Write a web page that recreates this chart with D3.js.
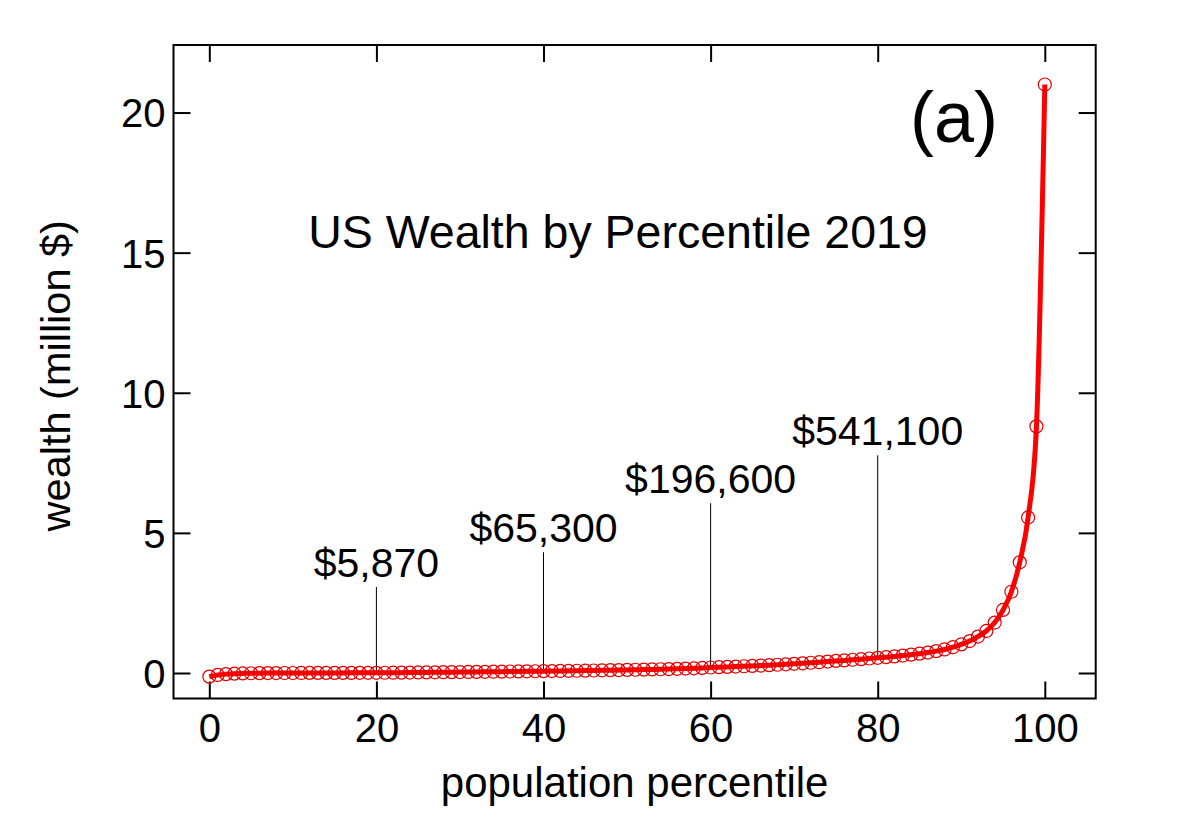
<!DOCTYPE html>
<html>
<head>
<meta charset="utf-8">
<script src="https://cdn.jsdelivr.net/npm/d3@7"></script>
<style>
  body { margin: 0; background: #fff; }
  text { font-family: "Liberation Sans", Arial, Helvetica, sans-serif; fill: #000; }
</style>
</head>
<body>
<svg id="drawing_region"></svg>
<script>
// wealth at each population percentile 0..100, million $
var percentile = d3.range(0, 101);
var wealth = [
  -0.13, -0.07, -0.04, -0.025, -0.015, -0.009, -0.005, -0.003, -0.0015, -0.0005,
  0.0003, 0.001, 0.0017, 0.0024, 0.003, 0.0036, 0.0042, 0.0047, 0.0052, 0.0056,
  0.00587, 0.008, 0.0105, 0.013, 0.016, 0.019, 0.022, 0.025, 0.028, 0.031,
  0.034, 0.037, 0.040, 0.043, 0.046, 0.049, 0.053, 0.0565, 0.0595, 0.0625,
  0.0653, 0.069, 0.073, 0.077, 0.081, 0.085, 0.090, 0.095, 0.100, 0.105,
  0.111, 0.116, 0.121, 0.127, 0.133, 0.140, 0.148, 0.157, 0.167, 0.181,
  0.1966, 0.207, 0.218, 0.229, 0.241, 0.253, 0.266, 0.280, 0.295, 0.311,
  0.328, 0.346, 0.365, 0.385, 0.407, 0.430, 0.450, 0.472, 0.494, 0.517,
  0.5411, 0.565, 0.592, 0.622, 0.655, 0.69, 0.73, 0.78, 0.84, 0.92,
  1.02, 1.14, 1.30, 1.50, 1.80, 2.25, 2.90, 3.95, 5.55, 8.80,
  21.0
];

// callouts
var notePct = [20, 40, 60, 80];
var noteText = ['$5,870', '$65,300', '$196,600', '$541,100'];
var noteTop = [3.07, 4.31, 6.06, 7.77];   // top of leader line, million $

var xTicks = [0, 20, 40, 60, 80, 100];
var yTicks = [0, 5, 10, 15, 20];

var width = 1200, height = 831;
var margin = {top: 45, right: 104.3, bottom: 132.5, left: 173.5};
var inner_width = width - margin.left - margin.right;
var inner_height = height - margin.top - margin.bottom;

var svg = d3.select('#drawing_region')
  .attr('width', width)
  .attr('height', height);

var chart = svg.append('g')
  .attr('transform', `translate(${margin.left}, ${margin.top})`);

var xscale = d3.scaleLinear()
  .domain([-4.285, 106.09])
  .range([0, inner_width]);

var yscale = d3.scaleLinear()
  .domain([-0.91, 22.41])
  .range([inner_height, 0]);

var data = percentile.map((p, i) => ({p: p, w: wealth[i]}));

// axes, ticks point inward on all four sides
var tickLen = 17;
function styleAxis(g) {
  g.select('.domain').remove();
  g.selectAll('.tick line').attr('stroke', '#000').attr('stroke-width', 2);
  g.selectAll('.tick text')
    .style('font-family', '"Liberation Sans", Arial, Helvetica, sans-serif')
    .style('font-size', '40px').attr('fill', '#000');
}

chart.append('g')
  .attr('transform', `translate(0, ${inner_height})`)
  .call(d3.axisBottom(xscale).tickValues(xTicks).tickSizeInner(-tickLen).tickSizeOuter(0))
  .call(styleAxis)
  .selectAll('.tick text').attr('y', 0).attr('dy', '43px');

chart.append('g')
  .call(d3.axisTop(xscale).tickValues(xTicks).tickSizeInner(-tickLen).tickSizeOuter(0).tickFormat(''))
  .call(styleAxis);

chart.append('g')
  .call(d3.axisLeft(yscale).tickValues(yTicks).tickSizeInner(-tickLen).tickSizeOuter(0))
  .call(styleAxis)
  .selectAll('.tick text').attr('x', -8).attr('dy', '0.36em');

chart.append('g')
  .attr('transform', `translate(${inner_width}, 0)`)
  .call(d3.axisRight(yscale).tickValues(yTicks).tickSizeInner(-tickLen).tickSizeOuter(0).tickFormat(''))
  .call(styleAxis);

// frame
chart.append('rect')
  .attr('x', 0).attr('y', 0)
  .attr('width', inner_width).attr('height', inner_height)
  .attr('fill', 'none').attr('stroke', '#000').attr('stroke-width', 2);

// leader lines and callout labels
chart.selectAll('.leader').data(notePct).enter()
  .append('line')
  .attr('x1', d => xscale(d)).attr('x2', d => xscale(d))
  .attr('y1', (d, i) => yscale(noteTop[i]))
  .attr('y2', d => yscale(wealth[d]))
  .attr('stroke', '#000').attr('stroke-width', 1);

chart.selectAll('.note').data(notePct).enter()
  .append('text')
  .attr('x', d => xscale(d))
  .attr('y', (d, i) => yscale(noteTop[i]) - 10)
  .attr('text-anchor', 'middle')
  .style('font-size', '41px')
  .text((d, i) => noteText[i]);

// curve and markers
var line = d3.line()
  .x(d => xscale(d.p))
  .y(d => yscale(d.w))
  .curve(d3.curveMonotoneX);

chart.append('path')
  .datum(data)
  .attr('d', line)
  .attr('fill', 'none')
  .attr('stroke', '#ff0000')
  .attr('stroke-width', 5)
  .attr('stroke-linejoin', 'round');

chart.selectAll('circle').data(data).enter()
  .append('circle')
  .attr('cx', d => xscale(d.p))
  .attr('cy', d => yscale(d.w))
  .attr('r', 6.5)
  .attr('fill', 'none')
  .attr('stroke', '#e00000')
  .attr('stroke-width', 1.2);

// titles
chart.append('text')
  .attr('x', 618 - margin.left)
  .attr('y', 248 - margin.top)
  .attr('text-anchor', 'middle')
  .style('font-size', '46.5px')
  .text('US Wealth by Percentile 2019');

chart.append('text')
  .attr('x', 910 - margin.left)
  .attr('y', 142 - margin.top)
  .style('font-size', '72px')
  .text('(a)');

svg.append('text')
  .attr('x', margin.left + inner_width / 2)
  .attr('y', 797)
  .attr('text-anchor', 'middle')
  .style('font-size', '42px')
  .text('population percentile');

svg.append('text')
  .attr('transform', `translate(70, ${margin.top + inner_height / 2 + 4}) rotate(-90)`)
  .attr('text-anchor', 'middle')
  .style('font-size', '41.5px')
  .text('wealth (million $)');
</script>
</body>
</html>
